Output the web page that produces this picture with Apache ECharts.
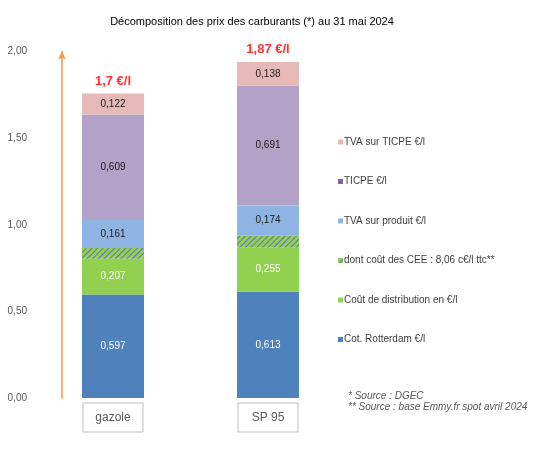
<!DOCTYPE html>
<html>
<head>
<meta charset="utf-8">
<script src="https://cdn.jsdelivr.net/npm/echarts@6/dist/echarts.min.js"></script>
<style>
  html, body { margin: 0; padding: 0; background: #fff; }
  #main { width: 549px; height: 451px; }
</style>
</head>
<body>
<div id="main"></div>
<script>
var categories = ['gazole', 'SP 95'];
var rotterdam = [0.597, 0.613];
var distribution = [0.207, 0.255];
var cee = [0.062, 0.069];
var tvaProduit = [0.161, 0.174];
var ticpe = [0.609, 0.691];
var tvaTicpe = [0.122, 0.138];
var totalLabels = ['1,7 €/l', '1,87 €/l'];

var chart = echarts.init(document.getElementById('main'));

function comma(v) {
  return String(v).replace('.', ',');
}

var font = 'Liberation Sans, Arial, sans-serif';

function valueLabel(color) {
  return {
    show: true,
    position: 'inside',
    color: color,
    fontSize: 10,
    fontFamily: font,
    formatter: function (p) { return comma(p.value); }
  };
}

// fines hachures bleues sur fond vert
var hatch = {
  symbol: 'rect',
  symbolSize: 1,
  dashArrayX: [1, 0],
  dashArrayY: [1, 2.2],
  rotation: -Math.PI / 4,
  color: 'rgba(95, 100, 205, 0.9)'
};

var option = {
  textStyle: { fontFamily: font },
  title: {
    text: 'Décomposition des prix des carburants (*) au 31 mai 2024',
    left: 247,
    top: 11,
    textAlign: 'center',
    textStyle: { fontSize: 11, fontWeight: 'normal', color: '#000', fontFamily: font }
  },
  legend: {
    orient: 'vertical',
    left: 338,
    top: 137,
    icon: 'rect',
    itemWidth: 5,
    itemHeight: 5,
    itemGap: 29.5,
    padding: 0,
    textStyle: { fontSize: 10, color: '#404040', fontFamily: font, padding: [0, 0, 0, -4] },
    data: [
      { name: 'TVA sur TICPE €/l' },
      { name: 'TICPE €/l', itemStyle: { color: '#8064a2' } },
      { name: 'TVA sur produit €/l' },
      { name: 'dont coût des CEE : 8,06 c€/l ttc**' },
      { name: 'Coût de distribution en €/l' },
      { name: 'Cot. Rotterdam €/l' }
    ]
  },
  grid: { left: 35.5, width: 310, top: 51.5, bottom: 53 },
  xAxis: {
    type: 'category',
    data: categories,
    axisLine: { show: false },
    axisTick: { show: false },
    axisLabel: {
      margin: 5,
      color: '#595959',
      fontSize: 12,
      fontFamily: font,
      width: 60,
      height: 29,
      lineHeight: 29,
      align: 'center',
      borderColor: '#bfbfbf',
      borderWidth: 1
    }
  },
  yAxis: {
    type: 'value',
    min: 0,
    max: 2,
    interval: 0.5,
    offset: -26.5,
    splitLine: { show: false },
    axisTick: { show: false },
    axisLine: {
      show: true,
      symbol: ['none', 'arrow'],
      symbolSize: [6, 8],
      lineStyle: { color: '#f79646', width: 1.5 }
    },
    axisLabel: {
      margin: 35,
      color: '#595959',
      fontSize: 10,
      fontFamily: font,
      formatter: function (v) { return v.toFixed(2).replace('.', ','); }
    }
  },
  series: [
    {
      name: 'Cot. Rotterdam €/l', type: 'bar', stack: 'prix', barWidth: 62,
      itemStyle: { color: '#4f81bd' },
      label: valueLabel('#fff'),
      data: rotterdam
    },
    {
      name: 'Coût de distribution en €/l', type: 'bar', stack: 'prix',
      itemStyle: { color: '#92d050' },
      label: valueLabel('#fff'),
      data: distribution
    },
    {
      name: 'dont coût des CEE : 8,06 c€/l ttc**', type: 'bar', stack: 'prix',
      itemStyle: { color: '#92d050', decal: hatch },
      data: cee
    },
    {
      name: 'TVA sur produit €/l', type: 'bar', stack: 'prix',
      itemStyle: { color: '#8eb4e3' },
      label: valueLabel('#1a1a1a'),
      data: tvaProduit
    },
    {
      name: 'TICPE €/l', type: 'bar', stack: 'prix',
      itemStyle: { color: '#b3a2c7' },
      label: valueLabel('#1a1a1a'),
      data: ticpe
    },
    {
      name: 'TVA sur TICPE €/l', type: 'bar', stack: 'prix',
      itemStyle: { color: '#e6b9b8' },
      label: valueLabel('#1a1a1a'),
      data: tvaTicpe
    },
    {
      name: 'total', type: 'bar', stack: 'prix',
      itemStyle: { color: 'transparent' },
      label: {
        show: true,
        position: 'top',
        distance: 6,
        color: '#ff3333',
        fontSize: 13,
        fontWeight: 'bold',
        fontFamily: font,
        formatter: function (p) { return totalLabels[p.dataIndex]; }
      },
      data: [0, 0]
    }
  ],
  graphic: [
    {
      type: 'text',
      left: 348,
      top: 390,
      style: {
        text: '* Source : DGEC\n** Source : base Emmy.fr spot avril 2024',
        fontSize: 10,
        fontStyle: 'italic',
        lineHeight: 11.5,
        fill: '#595959',
        fontFamily: font
      }
    }
  ]
};

chart.setOption(option);
</script>
</body>
</html>
